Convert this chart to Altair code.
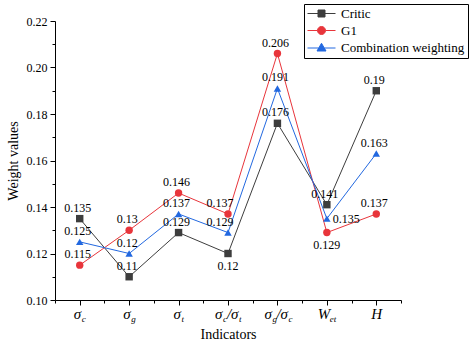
import altair as alt
import pandas as pd

# ---------------- data ----------------
categories = ["σc", "σg", "σt", "σc/σt", "σg/σc", "Wet", "H"]
series_names = ["Critic", "G1", "Combination weighting"]
critic = [0.135, 0.110, 0.129, 0.120, 0.176, 0.141, 0.190]
g1 = [0.115, 0.130, 0.146, 0.137, 0.206, 0.129, 0.137]
combo = [0.125, 0.120, 0.137, 0.129, 0.191, 0.135, 0.163]
# label placement: a = above, al = above-left, b = below, r = right
critic_pos = ["a", "a", "a", "b", "a", "a", "a"]
g1_pos = ["a", "a", "a", "al", "a", "b", "a"]
combo_pos = ["a", "a", "a", "al", "a", "r", "a"]
y_tick_values = [0.10, 0.11, 0.12, 0.13, 0.14, 0.15, 0.16, 0.17, 0.18, 0.19, 0.20, 0.21, 0.22]
x_tick_values = [-0.5, 0, 0.5, 1, 1.5, 2, 2.5, 3, 3.5, 4, 4.5, 5, 5.5, 6, 6.5]

# ---------------- styles ----------------
colors = ["#3d3d3d", "#e8353b", "#2268e0"]
shapes = ["square", "circle", "triangle-up"]
legend_paths = [
    "M-2.8,0H-0.7M0.7,0H2.8M-0.7,-0.7H0.7V0.7H-0.7Z",
    "M-2.8,0H-0.8M0.8,0H2.8M-0.8,0A0.8,0.8,0,1,0,0.8,0A0.8,0.8,0,1,0,-0.8,0Z",
    "M-2.8,0.1H-0.55M0.55,0.1H2.8M0,-0.85L0.9,0.7H-0.9Z",
]
FONT = "serif"

# category label pieces: (text, dx, is_subscript)
label_pieces = [
    [("σ", -6, False), ("c", 2, True)],
    [("σ", -6, False), ("g", 2, True)],
    [("σ", -5, False), ("t", 3, True)],
    [("σ", -13, False), ("c", -5, True), ("/", -1, False), ("σ", 3, False), ("t", 11, True)],
    [("σ", -13, False), ("g", -5, True), ("/", -1, False), ("σ", 3, False), ("c", 11, True)],
    [("W", -9, False), ("et", 3, True)],
    [("H", -5, False)],
]

rows = []
for s, vals, poss in zip(series_names, [critic, g1, combo], [critic_pos, g1_pos, combo_pos]):
    for i, (c, v, p) in enumerate(zip(categories, vals, poss)):
        rows.append({"idx": i, "category": c, "series": s, "value": v,
                     "label": f"{v:g}", "pos": p})
df = pd.DataFrame(rows)

x_scale = alt.Scale(domain=[-0.5, 6.5], nice=False, zero=False)
y_scale = alt.Scale(domain=[0.10, 0.22], nice=False, zero=False)

x_axis = alt.Axis(
    values=x_tick_values, labels=False, grid=False, title="Indicators",
    tickSize={"condition": {"test": "datum.value % 1 == 0", "value": 5}, "value": 3},
    titlePadding=22, titleFont=FONT, titleFontSize=14, titleFontWeight="normal",
    titleColor="black", domainColor="black", tickColor="black",
)
y_axis = alt.Axis(
    values=y_tick_values, grid=False, title="Weight values",
    labelExpr="round(datum.value*100) % 2 == 0 ? format(datum.value, '.2f') : ''",
    tickSize={"condition": {"test": "round(datum.value*100) % 2 == 0", "value": 5}, "value": 3},
    labelFont=FONT, labelFontSize=12, labelColor="black", labelPadding=3,
    titleFont=FONT, titleFontSize=14, titleFontWeight="normal", titlePadding=6,
    titleColor="black", domainColor="black", tickColor="black",
)

X = alt.X("idx:Q", scale=x_scale, axis=x_axis)
Y = alt.Y("value:Q", scale=y_scale, axis=y_axis)
color_scale = alt.Scale(domain=series_names, range=colors)

base = alt.Chart(df)

lines = base.mark_line(strokeWidth=1).encode(
    x=X, y=Y,
    color=alt.Color("series:N", scale=color_scale, legend=None),
    detail="series:N",
)

points = base.mark_point(filled=True, size=55, opacity=1).encode(
    x=X, y=Y,
    color=alt.Color("series:N", scale=color_scale, legend=None),
    shape=alt.Shape("series:N", scale=alt.Scale(domain=series_names, range=shapes), legend=None),
)

legend = alt.Legend(
    title=None, orient="none", legendX=249, legendY=-17,
    strokeColor="black", fillColor="white", padding=3,
    symbolSize=100, symbolStrokeWidth=1, symbolOpacity=1,
    labelFont=FONT, labelFontSize=13, labelColor="black",
    symbolOffset=8, labelOffset=13, rowPadding=3,
)
legend_layer = base.mark_point(filled=True, opacity=0).encode(
    x=X, y=Y,
    fill=alt.Fill("series:N", scale=alt.Scale(domain=series_names, range=colors), legend=legend),
    stroke=alt.Stroke("series:N", scale=alt.Scale(domain=series_names, range=colors), legend=legend),
    shape=alt.Shape("series:N", scale=alt.Scale(domain=series_names, range=legend_paths), legend=legend),
)

text_layers = []
placements = {"a": dict(dx=-2, dy=-11), "al": dict(dx=-8, dy=-11),
              "b": dict(dx=0, dy=12), "r": dict(dx=6, dy=0, align="left")}
for key, opts in placements.items():
    text_layers.append(
        base.transform_filter(alt.datum.pos == key).mark_text(
            font=FONT, fontSize=12, color="black", baseline="middle", **opts
        ).encode(x=X, y=Y, text="label:N")
    )

cat_layers = []
for i, pieces in enumerate(label_pieces):
    for txt, dx, sub in pieces:
        cat_layers.append(
            alt.Chart(pd.DataFrame({"idx": [i], "value": [0.10]})).mark_text(
                text=txt, dx=dx, dy=(19 if sub else 14), align="left", baseline="middle",
                font=FONT, fontStyle="italic", fontSize=(9 if sub else 15), color="black",
            ).encode(x=X, y=Y)
        )

chart = alt.layer(lines, points, legend_layer, *text_layers, *cat_layers).resolve_scale(
    shape="independent", color="independent", fill="independent", stroke="independent"
).properties(
    width=346, height=279,
    autosize=alt.AutoSizeParams(type="none"),
    padding={"left": 55, "top": 21, "right": 73, "bottom": 48},
    background="white",
).configure_view(stroke=None)

chart.save("out.html", embed_options={"renderer": "svg", "actions": False})
